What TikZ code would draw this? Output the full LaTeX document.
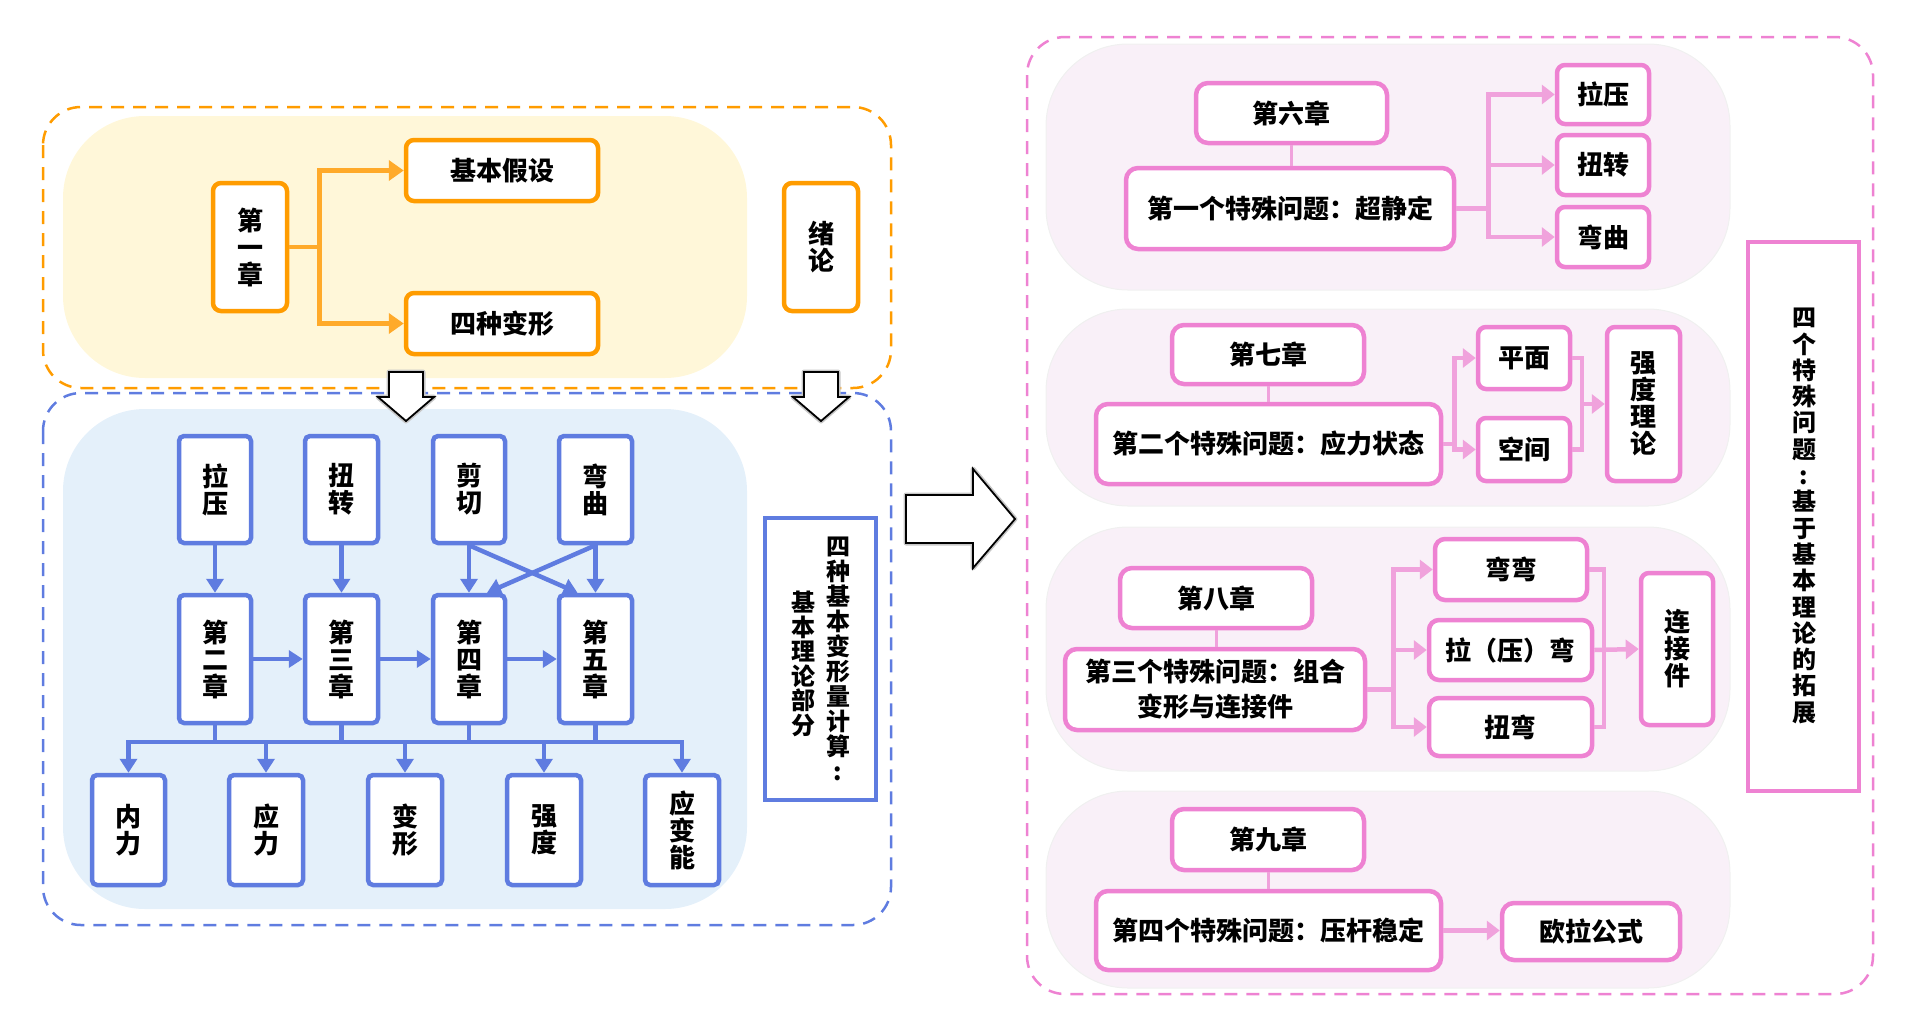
\documentclass[tikz,border=0pt]{standalone}
\usepackage{fontspec}
\newfontfamily\cjk{Noto Sans CJK SC}
\usetikzlibrary{arrows.meta}
\definecolor{orng}{HTML}{FF9C00}
\definecolor{orngl}{HTML}{FFAA2A}
\definecolor{yfill}{HTML}{FFF7D9}
\definecolor{blu}{HTML}{5F7CE0}
\definecolor{bfill}{HTML}{E4F0FA}
\definecolor{pnk}{HTML}{EE82D2}
\definecolor{pnkl}{HTML}{F0A2DC}
\definecolor{pfill}{HTML}{F9F0F8}
\tikzset{
  txt/.style={font=\cjk\bfseries\fontsize{26}{27}\selectfont,align=center,inner sep=0pt},
  orgbox/.style={txt,draw=orng,fill=white,line width=4.5pt,rounded corners=8pt},
  blubox/.style={txt,draw=blu,fill=white,line width=4.5pt,rounded corners=5pt},
  pnkbox/.style={txt,draw=pnk,fill=white,line width=4.5pt,rounded corners=12pt},
  dframe/.style={line width=2.5pt,dash pattern=on 13pt off 9pt,rounded corners=38pt},
  panel/.style={rounded corners=82pt},
  oline/.style={draw=orngl,line width=4.5pt},
  bline/.style={draw=blu,line width=4.5pt},
  pline/.style={draw=pnkl,line width=4.5pt},
  otip/.style={-{Triangle[length=15pt,width=20pt]}},
  btip/.style={-{Triangle[length=14pt,width=17pt]}},
  ptip/.style={-{Triangle[length=13pt,width=19pt]}},
  hollow/.style={draw=black,fill=white,line width=1.8pt,line join=miter},
  halo/.style={draw=black!22,line width=5pt,line join=round}
}
% box from corner (x1,y1) to (x2,y2), in pixels
\newcommand{\rb}[7]{%
  \node[#1,minimum width={(#5-#3)*1pt},minimum height={(#6-#4)*1pt}] (#2) at ({(#3+#5)/2},{(#4+#6)/2}) {#7};}
\newcommand{\dnarrow}[1]{%
  \foreach \st in {halo,hollow}
    \draw[\st] ({#1-17},372) -- ({#1+17},372) -- ({#1+17},397) -- ({#1+28},397) -- (#1,421)
      -- ({#1-28},397) -- ({#1-17},397) -- cycle;}

\begin{document}
\begin{tikzpicture}[x=1pt,y=-1pt]
  \useasboundingbox (0,0) rectangle (1913,1021);
  % ---- chapter 1
  \draw[dframe,draw=orng] (43,107) rectangle (891,388);
  \fill[panel,yfill] (63,116) rectangle (747,378);
  \rb{orgbox}{ch1}{213}{183}{287}{311}{第\\一\\章}
  \rb{orgbox}{jbjs}{406}{140}{598}{201}{基本假设}
  \rb{orgbox}{szbx}{406}{293}{598}{354}{四种变形}
  \rb{orgbox}{xl}{784}{183}{858}{311}{绪\\论}
  \draw[oline,otip] (ch1.east) -- ++(30,0) |- (jbjs.west);
  \draw[oline,otip] (ch1.east) -- ++(30,0) |- (szbx.west);

  % ---- chapters 2-5
  \draw[dframe,draw=blu] (43,393) rectangle (891,925);
  \fill[panel,bfill] (63,409) rectangle (747,909);
  \rb{blubox}{ly}{179}{436}{251}{543}{拉\\压}
  \rb{blubox}{nz}{305}{436}{378}{543}{扭\\转}
  \rb{blubox}{jq}{433}{436}{505}{543}{剪\\切}
  \rb{blubox}{wq}{559}{436}{632}{543}{弯\\曲}
  \rb{blubox}{ch2}{179}{595}{251}{723}{第\\二\\章}
  \rb{blubox}{ch3}{305}{595}{378}{723}{第\\三\\章}
  \rb{blubox}{ch4}{433}{595}{505}{723}{第\\四\\章}
  \rb{blubox}{ch5}{559}{595}{632}{723}{第\\五\\章}
  \rb{blubox}{nl}{92}{775}{165}{885}{内\\力}
  \rb{blubox}{yl}{229}{775}{303}{885}{应\\力}
  \rb{blubox}{bx}{368}{775}{442}{885}{变\\形}
  \rb{blubox}{qd}{507}{775}{581}{885}{强\\度}
  \rb{blubox}{ybn}{645}{775}{719}{885}{应\\变\\能}
  \rb{blubox,rounded corners=0pt}{jbll}{765}{518}{876}{800}{}
  \node[txt,font=\cjk\bfseries\fontsize{24}{25}\selectfont] (jbll1) at (838,659) {四\\种\\基\\本\\变\\形\\量\\计\\算\\:};
  \node[txt,font=\cjk\bfseries\fontsize{24}{24.5}\selectfont] (jbll2) at (803,664) {基\\本\\理\\论\\部\\分};
  \draw[bline,btip] (ly.south) -- (ch2.north);
  \draw[bline,btip] (nz.south) -- (ch3.north);
  \draw[bline,btip] (jq.south) -- (ch4.north);
  \draw[bline,btip] (wq.south) -- (ch5.north);
  \draw[bline,btip] (jq.south) -- ([xshift=-18pt]ch5.north);
  \draw[bline,btip] (wq.south) -- ([xshift=18pt]ch4.north);
  \draw[bline,btip] (ch2.east) -- (ch3.west);
  \draw[bline,btip] (ch3.east) -- (ch4.west);
  \draw[bline,btip] (ch4.east) -- (ch5.west);
  \coordinate (bus) at (0,742);
  \foreach \c in {ch2,ch3,ch4,ch5} \draw[bline] (\c.south) -- (\c.south |- bus);
  \draw[bline,line cap=rect] (nl.north |- bus) -- (ybn.north |- bus);
  \foreach \c in {nl,yl,bx,qd,ybn} \draw[bline,btip] (\c.north |- bus) -- (\c.north);

  % ---- hollow arrows
  \dnarrow{406}
  \dnarrow{821}
  \foreach \st in {halo,hollow}
    \draw[\st] (906,495) -- (973,495) -- (973,469) -- (1015,519) -- (973,568) -- (973,543) -- (906,543) -- cycle;

  % ---- chapters 6-9
  \draw[dframe,draw=pnk] (1027,37) rectangle (1873,994);
  \foreach \ya/\yb in {44/290,309/506,527/771,791/988}
    \draw[panel,fill=pfill,draw=black!6,line width=1pt] (1046,\ya) rectangle (1730,\yb);

  \rb{pnkbox}{ch6}{1196}{83}{1387}{143}{第六章}
  \rb{pnkbox}{q1}{1126}{168}{1454}{249}{第一个特殊问题：超静定}
  \rb{pnkbox,rounded corners=8pt}{la1}{1557}{65}{1649}{124}{拉压}
  \rb{pnkbox,rounded corners=8pt}{nz1}{1557}{135}{1649}{195}{扭转}
  \rb{pnkbox,rounded corners=8pt}{wq1}{1557}{207}{1649}{267}{弯曲}
  \draw[pline,line width=3pt] (ch6.south) -- (ch6.south |- q1.north);
  \foreach \t in {la1,nz1,wq1} \draw[pline,ptip] (q1.east) -- ++(32,0) |- (\t.west);

  \rb{pnkbox}{ch7}{1172}{325}{1364}{384}{第七章}
  \rb{pnkbox}{q2}{1096}{404}{1441}{484}{第二个特殊问题：应力状态}
  \rb{pnkbox,rounded corners=8pt}{pm}{1478}{327}{1570}{389}{平面}
  \rb{pnkbox,rounded corners=8pt}{kj}{1478}{418}{1570}{481}{空间}
  \rb{pnkbox,rounded corners=8pt}{qdll}{1607}{327}{1680}{481}{强\\度\\理\\论}
  \draw[pline,line width=3pt] (ch7.south) -- (ch7.south |- q2.north);
  \foreach \t in {pm,kj} \draw[pline,ptip] (q2.east) -- ++(11,0) |- (\t.west);
  \coordinate (m2) at (1582,404);
  \draw[pline] (pm.east) -| (m2) |- (kj.east);
  \draw[pline,ptip] (m2) -- (qdll.west);

  \rb{pnkbox}{ch8}{1120}{568}{1312}{628}{第八章}
  \rb{pnkbox,font=\cjk\bfseries\fontsize{26}{35}\selectfont}{q3}{1065}{649}{1365}{730}{第三个特殊问题：组合\\变形与连接件}
  \rb{pnkbox,rounded corners=10pt}{ww}{1435}{539}{1587}{600}{弯弯}
  \rb{pnkbox,rounded corners=10pt}{lyw}{1429}{620}{1592}{680}{拉（压）弯}
  \rb{pnkbox,rounded corners=10pt}{nw}{1429}{698}{1592}{756}{扭弯}
  \rb{pnkbox,rounded corners=8pt}{ljj}{1641}{573}{1713}{725}{连\\接\\件}
  \draw[pline,line width=3pt] (ch8.south) -- (ch8.south |- q3.north);
  \foreach \t in {ww,lyw,nw} \draw[pline,ptip] (q3.east) -- ++(26,0) |- (\t.west);
  \coordinate (m3) at (1604,649);
  \draw[pline] (ww.east) -| (m3) |- (nw.east);
  \draw[pline,ptip] (lyw.east) -- (ljj.west);

  \rb{pnkbox}{ch9}{1172}{809}{1364}{870}{第九章}
  \rb{pnkbox}{q4}{1096}{891}{1441}{970}{第四个特殊问题：压杆稳定}
  \rb{pnkbox}{olgs}{1502}{903}{1680}{960}{欧拉公式}
  \draw[pline,line width=3pt] (ch9.south) -- (ch9.south |- q4.north);
  \draw[pline,ptip] (q4.east) -- (q4.east -| olgs.west);

  \rb{pnkbox,rounded corners=0pt}{tzbk}{1748}{242}{1859}{791}{}
  \node[txt,font=\cjk\bfseries\fontsize{24}{26.3}\selectfont] (tzbk1) at (1804,516) {四\\个\\特\\殊\\问\\题\\:\\基\\于\\基\\本\\理\\论\\的\\拓\\展};
\end{tikzpicture}
\end{document}
